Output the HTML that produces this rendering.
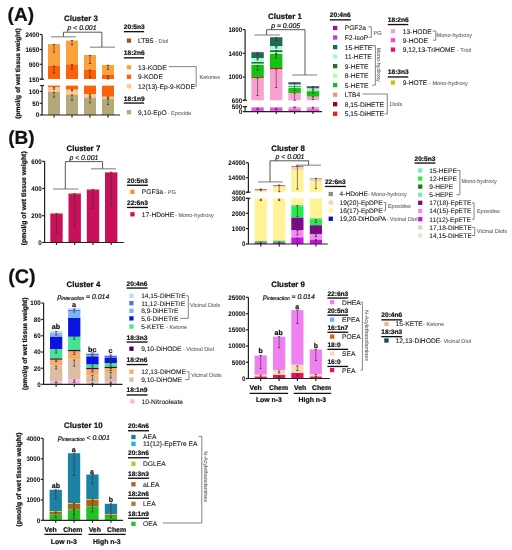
<!DOCTYPE html><html><head><meta charset="utf-8"><style>html,body{margin:0;padding:0;background:#fff}svg{display:block}</style></head><body><svg width="512" height="550" viewBox="0 0 512 550" text-rendering="geometricPrecision" font-family='"Liberation Sans", Arial, sans-serif'><style>text:not([fill]){fill:#222;stroke:#222;stroke-width:0.1px}text[font-weight="bold"]{fill:#111;stroke:#111;stroke-width:0.22px}text[fill="#707070"]{stroke:#707070;stroke-width:0.12px}text[textLength]{stroke-width:0.05px}text[font-style="italic"]{stroke-width:0.22px}</style><rect width="512" height="550" fill="#fff"/><text x="7.6" y="20.5" font-size="19" font-weight="bold">(A)</text><text x="8.2" y="143.5" font-size="19" font-weight="bold">(B)</text><text x="8.2" y="283.1" font-size="19.8" font-weight="bold">(C)</text><text x="81" y="20.5" font-size="7.9" font-weight="bold" text-anchor="middle">Cluster 3</text><text x="67.6" y="30" font-size="6.9" font-style="italic">p &lt; 0.001</text><line x1="51" y1="36.8" x2="76" y2="36.8" stroke="#999" stroke-width="1.3"/><line x1="90" y1="47.2" x2="115" y2="47.2" stroke="#999" stroke-width="1.3"/><polyline points="63.4,36.8 63.4,32.2 101.9,32.2 101.9,47.2" fill="none" stroke="#444" stroke-width="0.9"/><text x="19.5" y="73.5" font-size="6.6" font-weight="bold" text-anchor="middle" transform="rotate(-90 19.5 73.5)">(pmol/g of wet tissue weight)</text><rect x="48" y="44" width="12" height="21.7" fill="#FAA23C"/><rect x="48" y="65.7" width="12" height="13.3" fill="#FE6206"/><rect x="48" y="85.6" width="12" height="1.7" fill="#FE6206"/><rect x="48" y="87.3" width="12" height="4.7" fill="#FFC990"/><rect x="48" y="92" width="12" height="23" fill="#B4AA79"/><rect x="66" y="40.5" width="12" height="23.9" fill="#FAA23C"/><rect x="66" y="64.4" width="12" height="14.6" fill="#FE6206"/><rect x="66" y="85.6" width="12" height="4.1" fill="#FE6206"/><rect x="66" y="89.7" width="12" height="5.3" fill="#FFC990"/><rect x="66" y="95" width="12" height="20" fill="#B4AA79"/><rect x="84" y="55" width="12" height="14.8" fill="#FAA23C"/><rect x="84" y="69.8" width="12" height="9.2" fill="#FE6206"/><rect x="84" y="85.6" width="12" height="8.6" fill="#FE6206"/><rect x="84" y="94.2" width="12" height="3.4" fill="#FFC990"/><rect x="84" y="97.6" width="12" height="17.4" fill="#B4AA79"/><rect x="102" y="65" width="12" height="10" fill="#FAA23C"/><rect x="102" y="75" width="12" height="4" fill="#FE6206"/><rect x="102" y="85.6" width="12" height="11.2" fill="#FE6206"/><rect x="102" y="96.8" width="12" height="1.9" fill="#FFC990"/><rect x="102" y="98.7" width="12" height="16.3" fill="#B4AA79"/><line x1="54" y1="44.4" x2="54" y2="52.1" stroke="#3a3030" stroke-width="0.6"/><line x1="52.9" y1="44.4" x2="55.1" y2="44.4" stroke="#3a3030" stroke-width="0.8"/><line x1="52.9" y1="52.1" x2="55.1" y2="52.1" stroke="#3a3030" stroke-width="0.8"/><line x1="54" y1="66" x2="54" y2="72.9" stroke="#3a3030" stroke-width="0.6"/><line x1="52.9" y1="66" x2="55.1" y2="66" stroke="#3a3030" stroke-width="0.8"/><line x1="52.9" y1="72.9" x2="55.1" y2="72.9" stroke="#3a3030" stroke-width="0.8"/><line x1="54" y1="87.3" x2="54" y2="89.2" stroke="#3a3030" stroke-width="0.6"/><line x1="52.9" y1="87.3" x2="55.1" y2="87.3" stroke="#3a3030" stroke-width="0.8"/><line x1="52.9" y1="89.2" x2="55.1" y2="89.2" stroke="#3a3030" stroke-width="0.8"/><line x1="54" y1="92.2" x2="54" y2="97.1" stroke="#3a3030" stroke-width="0.6"/><line x1="52.9" y1="92.2" x2="55.1" y2="92.2" stroke="#3a3030" stroke-width="0.8"/><line x1="52.9" y1="97.1" x2="55.1" y2="97.1" stroke="#3a3030" stroke-width="0.8"/><line x1="72" y1="40.6" x2="72" y2="44.7" stroke="#3a3030" stroke-width="0.6"/><line x1="70.9" y1="40.6" x2="73.1" y2="40.6" stroke="#3a3030" stroke-width="0.8"/><line x1="70.9" y1="44.7" x2="73.1" y2="44.7" stroke="#3a3030" stroke-width="0.8"/><line x1="72" y1="64.7" x2="72" y2="69" stroke="#3a3030" stroke-width="0.6"/><line x1="70.9" y1="64.7" x2="73.1" y2="64.7" stroke="#3a3030" stroke-width="0.8"/><line x1="70.9" y1="69" x2="73.1" y2="69" stroke="#3a3030" stroke-width="0.8"/><line x1="72" y1="89.7" x2="72" y2="90.9" stroke="#3a3030" stroke-width="0.6"/><line x1="70.9" y1="89.7" x2="73.1" y2="89.7" stroke="#3a3030" stroke-width="0.8"/><line x1="70.9" y1="90.9" x2="73.1" y2="90.9" stroke="#3a3030" stroke-width="0.8"/><line x1="72" y1="95" x2="72" y2="100.4" stroke="#3a3030" stroke-width="0.6"/><line x1="70.9" y1="95" x2="73.1" y2="95" stroke="#3a3030" stroke-width="0.8"/><line x1="70.9" y1="100.4" x2="73.1" y2="100.4" stroke="#3a3030" stroke-width="0.8"/><line x1="90" y1="55.4" x2="90" y2="63.5" stroke="#3a3030" stroke-width="0.6"/><line x1="88.9" y1="55.4" x2="91.1" y2="55.4" stroke="#3a3030" stroke-width="0.8"/><line x1="88.9" y1="63.5" x2="91.1" y2="63.5" stroke="#3a3030" stroke-width="0.8"/><line x1="90" y1="70" x2="90" y2="77.5" stroke="#3a3030" stroke-width="0.6"/><line x1="88.9" y1="70" x2="91.1" y2="70" stroke="#3a3030" stroke-width="0.8"/><line x1="88.9" y1="77.5" x2="91.1" y2="77.5" stroke="#3a3030" stroke-width="0.8"/><line x1="90" y1="94.6" x2="90" y2="96.3" stroke="#3a3030" stroke-width="0.6"/><line x1="88.9" y1="94.6" x2="91.1" y2="94.6" stroke="#3a3030" stroke-width="0.8"/><line x1="88.9" y1="96.3" x2="91.1" y2="96.3" stroke="#3a3030" stroke-width="0.8"/><line x1="90" y1="97.6" x2="90" y2="102.8" stroke="#3a3030" stroke-width="0.6"/><line x1="88.9" y1="97.6" x2="91.1" y2="97.6" stroke="#3a3030" stroke-width="0.8"/><line x1="88.9" y1="102.8" x2="91.1" y2="102.8" stroke="#3a3030" stroke-width="0.8"/><line x1="108" y1="65.2" x2="108" y2="69.3" stroke="#3a3030" stroke-width="0.6"/><line x1="106.9" y1="65.2" x2="109.1" y2="65.2" stroke="#3a3030" stroke-width="0.8"/><line x1="106.9" y1="69.3" x2="109.1" y2="69.3" stroke="#3a3030" stroke-width="0.8"/><line x1="108" y1="75.8" x2="108" y2="79" stroke="#3a3030" stroke-width="0.6"/><line x1="106.9" y1="75.8" x2="109.1" y2="75.8" stroke="#3a3030" stroke-width="0.8"/><line x1="106.9" y1="79" x2="109.1" y2="79" stroke="#3a3030" stroke-width="0.8"/><line x1="108" y1="97" x2="108" y2="98.2" stroke="#3a3030" stroke-width="0.6"/><line x1="106.9" y1="97" x2="109.1" y2="97" stroke="#3a3030" stroke-width="0.8"/><line x1="106.9" y1="98.2" x2="109.1" y2="98.2" stroke="#3a3030" stroke-width="0.8"/><line x1="108" y1="98.7" x2="108" y2="104.5" stroke="#3a3030" stroke-width="0.6"/><line x1="106.9" y1="98.7" x2="109.1" y2="98.7" stroke="#3a3030" stroke-width="0.8"/><line x1="106.9" y1="104.5" x2="109.1" y2="104.5" stroke="#3a3030" stroke-width="0.8"/><line x1="42.1" y1="34.5" x2="42.1" y2="79.2" stroke="#222" stroke-width="1.2"/><line x1="39.7" y1="34.5" x2="42.1" y2="34.5" stroke="#222" stroke-width="1.2"/><text x="39.2" y="36.95" font-size="6.6" font-weight="bold" text-anchor="end" textLength="13.8" lengthAdjust="spacingAndGlyphs">2400</text><line x1="39.7" y1="49.5" x2="42.1" y2="49.5" stroke="#222" stroke-width="1.2"/><text x="39.2" y="51.95" font-size="6.6" font-weight="bold" text-anchor="end" textLength="13.8" lengthAdjust="spacingAndGlyphs">1650</text><line x1="39.7" y1="64.3" x2="42.1" y2="64.3" stroke="#222" stroke-width="1.2"/><text x="39.2" y="66.75" font-size="6.6" font-weight="bold" text-anchor="end" textLength="10.35" lengthAdjust="spacingAndGlyphs">900</text><line x1="39.7" y1="79.2" x2="42.1" y2="79.2" stroke="#222" stroke-width="1.2"/><text x="39.2" y="81.65" font-size="6.6" font-weight="bold" text-anchor="end" textLength="10.35" lengthAdjust="spacingAndGlyphs">150</text><line x1="40.1" y1="79.2" x2="44.1" y2="79.2" stroke="#222" stroke-width="1.2"/><line x1="42.1" y1="85.5" x2="42.1" y2="115" stroke="#222" stroke-width="1.2"/><line x1="39.7" y1="91.5" x2="42.1" y2="91.5" stroke="#222" stroke-width="1.2"/><text x="39.2" y="93.95" font-size="6.6" font-weight="bold" text-anchor="end" textLength="10.35" lengthAdjust="spacingAndGlyphs">100</text><line x1="39.7" y1="103.3" x2="42.1" y2="103.3" stroke="#222" stroke-width="1.2"/><text x="39.2" y="105.75" font-size="6.6" font-weight="bold" text-anchor="end" textLength="6.9" lengthAdjust="spacingAndGlyphs">50</text><line x1="39.7" y1="115" x2="42.1" y2="115" stroke="#222" stroke-width="1.2"/><text x="39.2" y="117.45" font-size="6.6" font-weight="bold" text-anchor="end" textLength="3.45" lengthAdjust="spacingAndGlyphs">0</text><line x1="40.1" y1="85.5" x2="44.1" y2="85.5" stroke="#222" stroke-width="1.2"/><line x1="41.65" y1="115" x2="120" y2="115" stroke="#222" stroke-width="1.2"/><line x1="54" y1="115" x2="54" y2="117.4" stroke="#222" stroke-width="1.2"/><line x1="72" y1="115" x2="72" y2="117.4" stroke="#222" stroke-width="1.2"/><line x1="90" y1="115" x2="90" y2="117.4" stroke="#222" stroke-width="1.2"/><line x1="108" y1="115" x2="108" y2="117.4" stroke="#222" stroke-width="1.2"/><text x="123.8" y="29.1" font-size="6.6" font-weight="bold">20:5n3</text><line x1="123.8" y1="31.65" x2="144.1" y2="31.65" stroke="#111" stroke-width="1.35"/><rect x="126.8" y="38.45" width="4.3" height="4.3" fill="#A0561E"/><text x="138" y="43.01" font-size="6.7">LTB5</text><text x="155.2" y="43.01" font-size="5.6" fill="#707070">- Diol</text><text x="123.8" y="55.3" font-size="6.6" font-weight="bold">18:2n6</text><line x1="123.8" y1="57.85" x2="144.1" y2="57.85" stroke="#111" stroke-width="1.35"/><rect x="126.8" y="65.15" width="4.3" height="4.3" fill="#FAA23C"/><text x="138" y="69.71" font-size="6.7">13-KODE</text><rect x="126.8" y="74.65" width="4.3" height="4.3" fill="#FE6206"/><text x="138" y="79.21" font-size="6.7">9-KODE</text><rect x="126.8" y="84.15" width="4.3" height="4.3" fill="#FFC990"/><text x="138" y="88.71" font-size="6.7">12(13)-Ep-9-KODE</text><polyline points="168.8,66.6 196.2,66.6 196.2,86.3 194,86.3" fill="none" stroke="#666" stroke-width="0.8"/><text x="199.5" y="78.6" font-size="5.6" fill="#707070">Ketones</text><text x="123.8" y="100.5" font-size="6.6" font-weight="bold">18:1n9</text><line x1="123.8" y1="103.05" x2="144.1" y2="103.05" stroke="#111" stroke-width="1.35"/><rect x="126.8" y="110.05" width="4.3" height="4.3" fill="#B4AA79"/><text x="138" y="114.61" font-size="6.7">9,10-EpO</text><text x="167.6" y="114.61" font-size="5.6" fill="#707070">- Epoxide</text><text x="285" y="19.3" font-size="7.9" font-weight="bold" text-anchor="middle">Cluster 1</text><text x="271.2" y="27.8" font-size="6.9" font-style="italic">p = 0.005</text><line x1="254.4" y1="35" x2="279.8" y2="35" stroke="#999" stroke-width="1.3"/><line x1="292.3" y1="75" x2="317.2" y2="75" stroke="#999" stroke-width="1.3"/><polyline points="266.6,35 266.6,29.7 305,29.7 305,75" fill="none" stroke="#444" stroke-width="0.9"/><rect x="251.4" y="51.9" width="12.4" height="0.7" fill="#8B1A8B"/><rect x="251.4" y="52.6" width="12.4" height="5.5" fill="#1E6B50"/><rect x="251.4" y="58.1" width="12.4" height="3.4" fill="#98FFE6"/><rect x="251.4" y="61.5" width="12.4" height="0.4" fill="#ffffff"/><rect x="251.4" y="61.9" width="12.4" height="1.85" fill="#1A7A1A"/><rect x="251.4" y="63.75" width="12.4" height="1.25" fill="#B5F7C5"/><rect x="251.4" y="65" width="12.4" height="12.1" fill="#14C214"/><rect x="251.4" y="77.1" width="12.4" height="0.9" fill="#E01010"/><rect x="251.4" y="78" width="12.4" height="22.3" fill="#F9A0D0"/><rect x="251.4" y="106.9" width="12.4" height="1" fill="#F9A0D0"/><rect x="251.4" y="107.9" width="12.4" height="3.6" fill="#F050E0"/><rect x="270" y="37.1" width="12.4" height="0.6" fill="#8B1A8B"/><rect x="270" y="37.7" width="12.4" height="8.55" fill="#1E6B50"/><rect x="270" y="46.25" width="12.4" height="3.35" fill="#98FFE6"/><rect x="270" y="49.6" width="12.4" height="0.65" fill="#ffffff"/><rect x="270" y="50.25" width="12.4" height="1.85" fill="#1A7A1A"/><rect x="270" y="52.1" width="12.4" height="1.9" fill="#B5F7C5"/><rect x="270" y="54" width="12.4" height="14" fill="#14C214"/><rect x="270" y="68" width="12.4" height="1" fill="#E01010"/><rect x="270" y="69" width="12.4" height="31.3" fill="#F9A0D0"/><rect x="270" y="106.9" width="12.4" height="1" fill="#F9A0D0"/><rect x="270" y="107.9" width="12.4" height="3.6" fill="#F050E0"/><rect x="288.4" y="82.1" width="12.4" height="0.7" fill="#8B1A8B"/><rect x="288.4" y="82.8" width="12.4" height="1.8" fill="#1E6B50"/><rect x="288.4" y="84.6" width="12.4" height="1.2" fill="#98FFE6"/><rect x="288.4" y="85.8" width="12.4" height="0.4" fill="#ffffff"/><rect x="288.4" y="86.2" width="12.4" height="0.7" fill="#1A7A1A"/><rect x="288.4" y="86.9" width="12.4" height="1" fill="#B5F7C5"/><rect x="288.4" y="87.9" width="12.4" height="5.1" fill="#14C214"/><rect x="288.4" y="93" width="12.4" height="7.3" fill="#F9A0D0"/><rect x="288.4" y="106.9" width="12.4" height="2.3" fill="#F9A0D0"/><rect x="288.4" y="109.2" width="12.4" height="2.3" fill="#F050E0"/><rect x="306.8" y="86" width="12.4" height="0.6" fill="#8B1A8B"/><rect x="306.8" y="86.6" width="12.4" height="1.9" fill="#1E6B50"/><rect x="306.8" y="88.5" width="12.4" height="0.9" fill="#98FFE6"/><rect x="306.8" y="89.4" width="12.4" height="0.4" fill="#ffffff"/><rect x="306.8" y="89.8" width="12.4" height="0.5" fill="#1A7A1A"/><rect x="306.8" y="90.3" width="12.4" height="0.9" fill="#B5F7C5"/><rect x="306.8" y="91.2" width="12.4" height="5.5" fill="#14C214"/><rect x="306.8" y="96.7" width="12.4" height="3.6" fill="#F9A0D0"/><rect x="306.8" y="106.9" width="12.4" height="2.3" fill="#F9A0D0"/><rect x="306.8" y="109.2" width="12.4" height="2.3" fill="#F050E0"/><line x1="257.6" y1="52.6" x2="257.6" y2="55" stroke="#3a3030" stroke-width="0.6"/><line x1="256.5" y1="52.6" x2="258.7" y2="52.6" stroke="#3a3030" stroke-width="0.8"/><line x1="256.5" y1="55" x2="258.7" y2="55" stroke="#3a3030" stroke-width="0.8"/><line x1="257.6" y1="58.5" x2="257.6" y2="60" stroke="#3a3030" stroke-width="0.6"/><line x1="256.5" y1="58.5" x2="258.7" y2="58.5" stroke="#3a3030" stroke-width="0.8"/><line x1="256.5" y1="60" x2="258.7" y2="60" stroke="#3a3030" stroke-width="0.8"/><line x1="257.6" y1="65.5" x2="257.6" y2="70" stroke="#3a3030" stroke-width="0.6"/><line x1="256.5" y1="65.5" x2="258.7" y2="65.5" stroke="#3a3030" stroke-width="0.8"/><line x1="256.5" y1="70" x2="258.7" y2="70" stroke="#3a3030" stroke-width="0.8"/><line x1="257.6" y1="78" x2="257.6" y2="95.5" stroke="#3a3030" stroke-width="0.6"/><line x1="256.5" y1="78" x2="258.7" y2="78" stroke="#3a3030" stroke-width="0.8"/><line x1="256.5" y1="95.5" x2="258.7" y2="95.5" stroke="#3a3030" stroke-width="0.8"/><line x1="257.6" y1="108.2" x2="257.6" y2="109.5" stroke="#3a3030" stroke-width="0.6"/><line x1="256.5" y1="108.2" x2="258.7" y2="108.2" stroke="#3a3030" stroke-width="0.8"/><line x1="256.5" y1="109.5" x2="258.7" y2="109.5" stroke="#3a3030" stroke-width="0.8"/><line x1="276.2" y1="37.7" x2="276.2" y2="40.5" stroke="#3a3030" stroke-width="0.6"/><line x1="275.1" y1="37.7" x2="277.3" y2="37.7" stroke="#3a3030" stroke-width="0.8"/><line x1="275.1" y1="40.5" x2="277.3" y2="40.5" stroke="#3a3030" stroke-width="0.8"/><line x1="276.2" y1="46.5" x2="276.2" y2="48" stroke="#3a3030" stroke-width="0.6"/><line x1="275.1" y1="46.5" x2="277.3" y2="46.5" stroke="#3a3030" stroke-width="0.8"/><line x1="275.1" y1="48" x2="277.3" y2="48" stroke="#3a3030" stroke-width="0.8"/><line x1="276.2" y1="50.5" x2="276.2" y2="53.5" stroke="#3a3030" stroke-width="0.6"/><line x1="275.1" y1="50.5" x2="277.3" y2="50.5" stroke="#3a3030" stroke-width="0.8"/><line x1="275.1" y1="53.5" x2="277.3" y2="53.5" stroke="#3a3030" stroke-width="0.8"/><line x1="276.2" y1="54.5" x2="276.2" y2="58" stroke="#3a3030" stroke-width="0.6"/><line x1="275.1" y1="54.5" x2="277.3" y2="54.5" stroke="#3a3030" stroke-width="0.8"/><line x1="275.1" y1="58" x2="277.3" y2="58" stroke="#3a3030" stroke-width="0.8"/><line x1="276.2" y1="69" x2="276.2" y2="87.6" stroke="#3a3030" stroke-width="0.6"/><line x1="275.1" y1="69" x2="277.3" y2="69" stroke="#3a3030" stroke-width="0.8"/><line x1="275.1" y1="87.6" x2="277.3" y2="87.6" stroke="#3a3030" stroke-width="0.8"/><line x1="276.2" y1="108.2" x2="276.2" y2="109.5" stroke="#3a3030" stroke-width="0.6"/><line x1="275.1" y1="108.2" x2="277.3" y2="108.2" stroke="#3a3030" stroke-width="0.8"/><line x1="275.1" y1="109.5" x2="277.3" y2="109.5" stroke="#3a3030" stroke-width="0.8"/><line x1="294.6" y1="83" x2="294.6" y2="90.5" stroke="#3a3030" stroke-width="0.6"/><line x1="293.5" y1="83" x2="295.7" y2="83" stroke="#3a3030" stroke-width="0.8"/><line x1="293.5" y1="90.5" x2="295.7" y2="90.5" stroke="#3a3030" stroke-width="0.8"/><line x1="294.6" y1="93" x2="294.6" y2="100.3" stroke="#3a3030" stroke-width="0.6"/><line x1="293.5" y1="93" x2="295.7" y2="93" stroke="#3a3030" stroke-width="0.8"/><line x1="293.5" y1="100.3" x2="295.7" y2="100.3" stroke="#3a3030" stroke-width="0.8"/><line x1="294.6" y1="106.9" x2="294.6" y2="108" stroke="#3a3030" stroke-width="0.6"/><line x1="293.5" y1="106.9" x2="295.7" y2="106.9" stroke="#3a3030" stroke-width="0.8"/><line x1="293.5" y1="108" x2="295.7" y2="108" stroke="#3a3030" stroke-width="0.8"/><line x1="313" y1="86.6" x2="313" y2="89" stroke="#3a3030" stroke-width="0.6"/><line x1="311.9" y1="86.6" x2="314.1" y2="86.6" stroke="#3a3030" stroke-width="0.8"/><line x1="311.9" y1="89" x2="314.1" y2="89" stroke="#3a3030" stroke-width="0.8"/><line x1="313" y1="90" x2="313" y2="93" stroke="#3a3030" stroke-width="0.6"/><line x1="311.9" y1="90" x2="314.1" y2="90" stroke="#3a3030" stroke-width="0.8"/><line x1="311.9" y1="93" x2="314.1" y2="93" stroke="#3a3030" stroke-width="0.8"/><line x1="313" y1="96.7" x2="313" y2="99.5" stroke="#3a3030" stroke-width="0.6"/><line x1="311.9" y1="96.7" x2="314.1" y2="96.7" stroke="#3a3030" stroke-width="0.8"/><line x1="311.9" y1="99.5" x2="314.1" y2="99.5" stroke="#3a3030" stroke-width="0.8"/><line x1="313" y1="107.2" x2="313" y2="108.6" stroke="#3a3030" stroke-width="0.6"/><line x1="311.9" y1="107.2" x2="314.1" y2="107.2" stroke="#3a3030" stroke-width="0.8"/><line x1="311.9" y1="108.6" x2="314.1" y2="108.6" stroke="#3a3030" stroke-width="0.8"/><line x1="245.1" y1="29.6" x2="245.1" y2="100.3" stroke="#222" stroke-width="1.2"/><line x1="242.7" y1="29.6" x2="245.1" y2="29.6" stroke="#222" stroke-width="1.2"/><text x="242.2" y="32.05" font-size="6.6" font-weight="bold" text-anchor="end" textLength="13.8" lengthAdjust="spacingAndGlyphs">1800</text><line x1="242.7" y1="53.3" x2="245.1" y2="53.3" stroke="#222" stroke-width="1.2"/><text x="242.2" y="55.75" font-size="6.6" font-weight="bold" text-anchor="end" textLength="13.8" lengthAdjust="spacingAndGlyphs">1400</text><line x1="242.7" y1="77" x2="245.1" y2="77" stroke="#222" stroke-width="1.2"/><text x="242.2" y="79.45" font-size="6.6" font-weight="bold" text-anchor="end" textLength="13.8" lengthAdjust="spacingAndGlyphs">1000</text><line x1="242.7" y1="100.3" x2="245.1" y2="100.3" stroke="#222" stroke-width="1.2"/><text x="242.2" y="102.75" font-size="6.6" font-weight="bold" text-anchor="end" textLength="10.35" lengthAdjust="spacingAndGlyphs">600</text><line x1="243.1" y1="100.3" x2="247.1" y2="100.3" stroke="#222" stroke-width="1.2"/><line x1="245.1" y1="106.6" x2="245.1" y2="111.6" stroke="#222" stroke-width="1.2"/><line x1="242.7" y1="106.6" x2="245.1" y2="106.6" stroke="#222" stroke-width="1.2"/><text x="242.2" y="109.05" font-size="6.6" font-weight="bold" text-anchor="end" textLength="10.35" lengthAdjust="spacingAndGlyphs">500</text><line x1="242.7" y1="111.6" x2="245.1" y2="111.6" stroke="#222" stroke-width="1.2"/><text x="242.2" y="114.05" font-size="6.6" font-weight="bold" text-anchor="end" textLength="3.45" lengthAdjust="spacingAndGlyphs">0</text><line x1="243.1" y1="106.6" x2="247.1" y2="106.6" stroke="#222" stroke-width="1.2"/><line x1="244.65" y1="111.6" x2="322" y2="111.6" stroke="#222" stroke-width="1.2"/><line x1="257.6" y1="111.6" x2="257.6" y2="114" stroke="#222" stroke-width="1.2"/><line x1="276.2" y1="111.6" x2="276.2" y2="114" stroke="#222" stroke-width="1.2"/><line x1="294.6" y1="111.6" x2="294.6" y2="114" stroke="#222" stroke-width="1.2"/><line x1="313" y1="111.6" x2="313" y2="114" stroke="#222" stroke-width="1.2"/><text x="329.8" y="17.3" font-size="6.6" font-weight="bold">20:4n6</text><line x1="329.8" y1="19.85" x2="350.8" y2="19.85" stroke="#111" stroke-width="1.35"/><rect x="333" y="25.85" width="4.3" height="4.3" fill="#8B1A8B"/><text x="344.7" y="30.41" font-size="6.7">PGF2a</text><rect x="333" y="35.35" width="4.3" height="4.3" fill="#CC33FF"/><text x="344.7" y="39.91" font-size="6.7">F2-IsoP</text><rect x="333" y="44.95" width="4.3" height="4.3" fill="#1E6B50"/><text x="344.7" y="49.51" font-size="6.7">15-HETE</text><rect x="333" y="54.45" width="4.3" height="4.3" fill="#98FFE6"/><text x="344.7" y="59.01" font-size="6.7">11-HETE</text><rect x="333" y="63.95" width="4.3" height="4.3" fill="#1A7A1A"/><text x="344.7" y="68.51" font-size="6.7">9-HETE</text><rect x="333" y="73.45" width="4.3" height="4.3" fill="#B5F7C5"/><text x="344.7" y="78.01" font-size="6.7">8-HETE</text><rect x="333" y="82.95" width="4.3" height="4.3" fill="#14C214"/><text x="344.7" y="87.51" font-size="6.7">5-HETE</text><rect x="333" y="92.55" width="4.3" height="4.3" fill="#F59090"/><text x="344.7" y="97.11" font-size="6.7">LTB4</text><rect x="333" y="102.05" width="4.3" height="4.3" fill="#A00000"/><text x="344.7" y="106.61" font-size="6.7">8,15-DiHETE</text><rect x="333" y="111.65" width="4.3" height="4.3" fill="#FF1A1A"/><text x="344.7" y="116.21" font-size="6.7">5,15-DiHETE</text><polyline points="368.3,26.8 371.3,26.8 371.3,37.4 368.8,37.4" fill="none" stroke="#666" stroke-width="0.8"/><text x="373.5" y="35" font-size="5.6" fill="#707070">PG</text><polyline points="372,45.6 375.4,45.6 375.4,85.1 372,85.1" fill="none" stroke="#666" stroke-width="0.8"/><text x="377.4" y="47.6" font-size="5.4" fill="#707070" transform="rotate(90 377.4 47.6)">Mono-hydroxy</text><polyline points="362.5,94 387.3,94 387.3,114 384.5,114" fill="none" stroke="#666" stroke-width="0.8"/><text x="389.8" y="106.1" font-size="5.6" fill="#707070">Diols</text><text x="387.8" y="22" font-size="6.6" font-weight="bold">18:2n6</text><line x1="387.8" y1="24.55" x2="408.3" y2="24.55" stroke="#111" stroke-width="1.35"/><rect x="390.8" y="29.05" width="4.3" height="4.3" fill="#F9A0D0"/><text x="402.8" y="33.61" font-size="6.7">13-HODE</text><rect x="390.8" y="38.05" width="4.3" height="4.3" fill="#FF48D8"/><text x="402.8" y="42.61" font-size="6.7">9-HODE</text><rect x="390.8" y="47.45" width="4.3" height="4.3" fill="#E8106E"/><text x="402.8" y="52.01" font-size="6.7">9,12,13-TriHOME</text><text x="457" y="52.01" font-size="5.6" fill="#707070">- Triol</text><polyline points="432.5,31 435.8,31 435.8,40.2 433,40.2" fill="none" stroke="#666" stroke-width="0.8"/><text x="436.6" y="37" font-size="5.6" fill="#707070">Mono-hydroxy</text><text x="387.8" y="74.4" font-size="6.6" font-weight="bold">18:3n3</text><line x1="387.8" y1="76.95" x2="408.3" y2="76.95" stroke="#111" stroke-width="1.35"/><rect x="390.8" y="80.45" width="4.3" height="4.3" fill="#C8C020"/><text x="402.8" y="85.01" font-size="6.7">9-HOTE</text><text x="429" y="85.01" font-size="5.6" fill="#707070">- Mono-hydroxy</text><text x="83.4" y="151.3" font-size="7.9" font-weight="bold" text-anchor="middle">Cluster 7</text><text x="69.4" y="159.6" font-size="6.9" font-style="italic">p &lt; 0.001</text><line x1="52.9" y1="189" x2="78.4" y2="189" stroke="#999" stroke-width="1.3"/><line x1="91" y1="168.8" x2="116" y2="168.8" stroke="#999" stroke-width="1.3"/><polyline points="65.3,189 65.3,161.6 102.6,161.6 102.6,168.8" fill="none" stroke="#444" stroke-width="0.9"/><text x="26.5" y="198.3" font-size="6.85" font-weight="bold" text-anchor="middle" transform="rotate(-90 26.5 198.3)">(pmol/g of wet tissue weight)</text><rect x="50.3" y="213.4" width="12.4" height="29.1" fill="#C9115B"/><rect x="50.3" y="213.4" width="12.4" height="0.7" fill="#F89A30"/><line x1="56.5" y1="213.4" x2="56.5" y2="232.5" stroke="#3a3030" stroke-width="0.6"/><line x1="55.4" y1="213.4" x2="57.6" y2="213.4" stroke="#3a3030" stroke-width="0.8"/><line x1="55.4" y1="232.5" x2="57.6" y2="232.5" stroke="#3a3030" stroke-width="0.8"/><rect x="68.5" y="193.5" width="12.4" height="49" fill="#C9115B"/><rect x="68.5" y="193.5" width="12.4" height="0.7" fill="#F89A30"/><line x1="74.7" y1="193.5" x2="74.7" y2="226" stroke="#3a3030" stroke-width="0.6"/><line x1="73.6" y1="193.5" x2="75.8" y2="193.5" stroke="#3a3030" stroke-width="0.8"/><line x1="73.6" y1="226" x2="75.8" y2="226" stroke="#3a3030" stroke-width="0.8"/><rect x="86.8" y="189.4" width="12.4" height="53.1" fill="#C9115B"/><rect x="86.8" y="189.4" width="12.4" height="0.7" fill="#F89A30"/><line x1="93" y1="189.4" x2="93" y2="208.5" stroke="#3a3030" stroke-width="0.6"/><line x1="91.9" y1="189.4" x2="94.1" y2="189.4" stroke="#3a3030" stroke-width="0.8"/><line x1="91.9" y1="208.5" x2="94.1" y2="208.5" stroke="#3a3030" stroke-width="0.8"/><rect x="105" y="172.1" width="12.4" height="70.4" fill="#C9115B"/><rect x="105" y="172.1" width="12.4" height="0.7" fill="#F89A30"/><line x1="111.2" y1="172.1" x2="111.2" y2="205.3" stroke="#3a3030" stroke-width="0.6"/><line x1="110.1" y1="172.1" x2="112.3" y2="172.1" stroke="#3a3030" stroke-width="0.8"/><line x1="110.1" y1="205.3" x2="112.3" y2="205.3" stroke="#3a3030" stroke-width="0.8"/><line x1="44.6" y1="161.3" x2="44.6" y2="242.5" stroke="#222" stroke-width="1.2"/><line x1="42.2" y1="161.3" x2="44.6" y2="161.3" stroke="#222" stroke-width="1.2"/><text x="41.7" y="163.75" font-size="6.6" font-weight="bold" text-anchor="end" textLength="10.35" lengthAdjust="spacingAndGlyphs">600</text><line x1="42.2" y1="188.5" x2="44.6" y2="188.5" stroke="#222" stroke-width="1.2"/><text x="41.7" y="190.95" font-size="6.6" font-weight="bold" text-anchor="end" textLength="10.35" lengthAdjust="spacingAndGlyphs">400</text><line x1="42.2" y1="215.7" x2="44.6" y2="215.7" stroke="#222" stroke-width="1.2"/><text x="41.7" y="218.15" font-size="6.6" font-weight="bold" text-anchor="end" textLength="10.35" lengthAdjust="spacingAndGlyphs">200</text><line x1="42.2" y1="242.5" x2="44.6" y2="242.5" stroke="#222" stroke-width="1.2"/><text x="41.7" y="244.95" font-size="6.6" font-weight="bold" text-anchor="end" textLength="3.45" lengthAdjust="spacingAndGlyphs">0</text><line x1="44.15" y1="242.5" x2="123.8" y2="242.5" stroke="#222" stroke-width="1.2"/><line x1="56.5" y1="242.5" x2="56.5" y2="244.9" stroke="#222" stroke-width="1.2"/><line x1="74.7" y1="242.5" x2="74.7" y2="244.9" stroke="#222" stroke-width="1.2"/><line x1="93" y1="242.5" x2="93" y2="244.9" stroke="#222" stroke-width="1.2"/><line x1="111.2" y1="242.5" x2="111.2" y2="244.9" stroke="#222" stroke-width="1.2"/><text x="127" y="182.7" font-size="6.6" font-weight="bold">20:5n3</text><line x1="127" y1="185.25" x2="148" y2="185.25" stroke="#111" stroke-width="1.35"/><rect x="130.3" y="189.65" width="4.3" height="4.3" fill="#F8922A"/><text x="141.8" y="194.21" font-size="6.7">PGF3a</text><text x="164.3" y="194.21" font-size="5.6" fill="#707070">- PG</text><text x="127" y="204.9" font-size="6.6" font-weight="bold">22:6n3</text><line x1="127" y1="207.45" x2="148" y2="207.45" stroke="#111" stroke-width="1.35"/><rect x="130.3" y="212.15" width="4.3" height="4.3" fill="#C9115B"/><text x="141.8" y="216.71" font-size="6.7">17-HDoHE</text><text x="175" y="216.71" font-size="5.6" fill="#707070">- Mono-hydroxy</text><text x="288.1" y="150.8" font-size="7.9" font-weight="bold" text-anchor="middle">Cluster 8</text><text x="275.5" y="158.6" font-size="6.9" font-style="italic">p &lt; 0.001</text><line x1="258.1" y1="181.9" x2="282.8" y2="181.9" stroke="#999" stroke-width="1.3"/><line x1="295.8" y1="165.2" x2="320.8" y2="165.2" stroke="#999" stroke-width="1.3"/><polyline points="270,181.9 270,160.8 308.6,160.8 308.6,165.2" fill="none" stroke="#444" stroke-width="0.9"/><rect x="254.7" y="189" width="12.2" height="1" fill="#8C8C8C"/><rect x="254.7" y="190" width="12.2" height="1" fill="#FCD2A6"/><rect x="254.7" y="191" width="12.2" height="1.2" fill="#FFF395"/><rect x="273.1" y="185" width="12.2" height="1" fill="#8C8C8C"/><rect x="273.1" y="186" width="12.2" height="1.5" fill="#FCD2A6"/><rect x="273.1" y="187.5" width="12.2" height="4.7" fill="#FFF395"/><rect x="291.3" y="166" width="12.2" height="1" fill="#8C8C8C"/><rect x="291.3" y="167" width="12.2" height="3.6" fill="#FCD2A6"/><rect x="291.3" y="170.6" width="12.2" height="21.6" fill="#FFF395"/><rect x="309.8" y="178.4" width="12.2" height="1" fill="#8C8C8C"/><rect x="309.8" y="179.4" width="12.2" height="2.2" fill="#FCD2A6"/><rect x="309.8" y="181.6" width="12.2" height="10.6" fill="#FFF395"/><rect x="254.7" y="198.4" width="12.2" height="42.6" fill="#FFF395"/><rect x="254.7" y="241" width="12.2" height="1.5" fill="#22EE4A"/><rect x="254.7" y="242.5" width="12.2" height="1.5" fill="#CC10E6"/><rect x="273.1" y="198.4" width="12.2" height="42.2" fill="#FFF395"/><rect x="273.1" y="240.6" width="12.2" height="1.7" fill="#22EE4A"/><rect x="273.1" y="242.3" width="12.2" height="1.7" fill="#CC10E6"/><rect x="291.3" y="198.4" width="12.2" height="7.1" fill="#FFF395"/><rect x="291.3" y="205.5" width="12.2" height="0.7" fill="#3aa0a0"/><rect x="291.3" y="206.2" width="12.2" height="11.2" fill="#22EE4A"/><rect x="291.3" y="217.4" width="12.2" height="0.6" fill="#5050b0"/><rect x="291.3" y="218" width="12.2" height="12" fill="#7E0A8A"/><rect x="291.3" y="230" width="12.2" height="7.5" fill="#F28AF2"/><rect x="291.3" y="237.5" width="12.2" height="6.5" fill="#CC10E6"/><rect x="309.8" y="198.4" width="12.2" height="20.1" fill="#FFF395"/><rect x="309.8" y="218.5" width="12.2" height="0.7" fill="#3aa0a0"/><rect x="309.8" y="219.2" width="12.2" height="6" fill="#22EE4A"/><rect x="309.8" y="225.2" width="12.2" height="8.8" fill="#7E0A8A"/><rect x="309.8" y="234" width="12.2" height="5.7" fill="#F28AF2"/><rect x="309.8" y="239.7" width="12.2" height="4.3" fill="#CC10E6"/><line x1="260.8" y1="189" x2="260.8" y2="190.6" stroke="#3a3030" stroke-width="0.6"/><line x1="259.7" y1="189" x2="261.9" y2="189" stroke="#3a3030" stroke-width="0.8"/><line x1="259.7" y1="190.6" x2="261.9" y2="190.6" stroke="#3a3030" stroke-width="0.8"/><line x1="260.8" y1="199.2" x2="260.8" y2="200.6" stroke="#3a3030" stroke-width="0.6"/><line x1="259.7" y1="199.2" x2="261.9" y2="199.2" stroke="#3a3030" stroke-width="0.8"/><line x1="259.7" y1="200.6" x2="261.9" y2="200.6" stroke="#3a3030" stroke-width="0.8"/><line x1="260.8" y1="242.4" x2="260.8" y2="243.4" stroke="#3a3030" stroke-width="0.6"/><line x1="259.7" y1="242.4" x2="261.9" y2="242.4" stroke="#3a3030" stroke-width="0.8"/><line x1="259.7" y1="243.4" x2="261.9" y2="243.4" stroke="#3a3030" stroke-width="0.8"/><line x1="279.2" y1="185" x2="279.2" y2="191.7" stroke="#3a3030" stroke-width="0.6"/><line x1="278.1" y1="185" x2="280.3" y2="185" stroke="#3a3030" stroke-width="0.8"/><line x1="278.1" y1="191.7" x2="280.3" y2="191.7" stroke="#3a3030" stroke-width="0.8"/><line x1="279.2" y1="199.2" x2="279.2" y2="200.6" stroke="#3a3030" stroke-width="0.6"/><line x1="278.1" y1="199.2" x2="280.3" y2="199.2" stroke="#3a3030" stroke-width="0.8"/><line x1="278.1" y1="200.6" x2="280.3" y2="200.6" stroke="#3a3030" stroke-width="0.8"/><line x1="279.2" y1="242" x2="279.2" y2="243.4" stroke="#3a3030" stroke-width="0.6"/><line x1="278.1" y1="242" x2="280.3" y2="242" stroke="#3a3030" stroke-width="0.8"/><line x1="278.1" y1="243.4" x2="280.3" y2="243.4" stroke="#3a3030" stroke-width="0.8"/><line x1="297.4" y1="166" x2="297.4" y2="189" stroke="#3a3030" stroke-width="0.6"/><line x1="296.3" y1="166" x2="298.5" y2="166" stroke="#3a3030" stroke-width="0.8"/><line x1="296.3" y1="189" x2="298.5" y2="189" stroke="#3a3030" stroke-width="0.8"/><line x1="297.4" y1="205.8" x2="297.4" y2="216.4" stroke="#3a3030" stroke-width="0.6"/><line x1="296.3" y1="205.8" x2="298.5" y2="205.8" stroke="#3a3030" stroke-width="0.8"/><line x1="296.3" y1="216.4" x2="298.5" y2="216.4" stroke="#3a3030" stroke-width="0.8"/><line x1="297.4" y1="219.9" x2="297.4" y2="227.8" stroke="#3a3030" stroke-width="0.6"/><line x1="296.3" y1="219.9" x2="298.5" y2="219.9" stroke="#3a3030" stroke-width="0.8"/><line x1="296.3" y1="227.8" x2="298.5" y2="227.8" stroke="#3a3030" stroke-width="0.8"/><line x1="297.4" y1="230.4" x2="297.4" y2="234.8" stroke="#3a3030" stroke-width="0.6"/><line x1="296.3" y1="230.4" x2="298.5" y2="230.4" stroke="#3a3030" stroke-width="0.8"/><line x1="296.3" y1="234.8" x2="298.5" y2="234.8" stroke="#3a3030" stroke-width="0.8"/><line x1="297.4" y1="238.3" x2="297.4" y2="241.8" stroke="#3a3030" stroke-width="0.6"/><line x1="296.3" y1="238.3" x2="298.5" y2="238.3" stroke="#3a3030" stroke-width="0.8"/><line x1="296.3" y1="241.8" x2="298.5" y2="241.8" stroke="#3a3030" stroke-width="0.8"/><line x1="315.9" y1="178.4" x2="315.9" y2="188.6" stroke="#3a3030" stroke-width="0.6"/><line x1="314.8" y1="178.4" x2="317" y2="178.4" stroke="#3a3030" stroke-width="0.8"/><line x1="314.8" y1="188.6" x2="317" y2="188.6" stroke="#3a3030" stroke-width="0.8"/><line x1="315.9" y1="219.9" x2="315.9" y2="222.5" stroke="#3a3030" stroke-width="0.6"/><line x1="314.8" y1="219.9" x2="317" y2="219.9" stroke="#3a3030" stroke-width="0.8"/><line x1="314.8" y1="222.5" x2="317" y2="222.5" stroke="#3a3030" stroke-width="0.8"/><line x1="315.9" y1="226.9" x2="315.9" y2="229.5" stroke="#3a3030" stroke-width="0.6"/><line x1="314.8" y1="226.9" x2="317" y2="226.9" stroke="#3a3030" stroke-width="0.8"/><line x1="314.8" y1="229.5" x2="317" y2="229.5" stroke="#3a3030" stroke-width="0.8"/><line x1="315.9" y1="234.8" x2="315.9" y2="236.6" stroke="#3a3030" stroke-width="0.6"/><line x1="314.8" y1="234.8" x2="317" y2="234.8" stroke="#3a3030" stroke-width="0.8"/><line x1="314.8" y1="236.6" x2="317" y2="236.6" stroke="#3a3030" stroke-width="0.8"/><line x1="315.9" y1="239.7" x2="315.9" y2="241.4" stroke="#3a3030" stroke-width="0.6"/><line x1="314.8" y1="239.7" x2="317" y2="239.7" stroke="#3a3030" stroke-width="0.8"/><line x1="314.8" y1="241.4" x2="317" y2="241.4" stroke="#3a3030" stroke-width="0.8"/><line x1="248.4" y1="162.8" x2="248.4" y2="192.2" stroke="#222" stroke-width="1.2"/><line x1="246" y1="162.8" x2="248.4" y2="162.8" stroke="#222" stroke-width="1.2"/><text x="245.5" y="165.25" font-size="6.6" font-weight="bold" text-anchor="end" textLength="17.25" lengthAdjust="spacingAndGlyphs">24000</text><line x1="246" y1="177.7" x2="248.4" y2="177.7" stroke="#222" stroke-width="1.2"/><text x="245.5" y="180.15" font-size="6.6" font-weight="bold" text-anchor="end" textLength="17.25" lengthAdjust="spacingAndGlyphs">14000</text><line x1="246" y1="192.2" x2="248.4" y2="192.2" stroke="#222" stroke-width="1.2"/><text x="245.5" y="194.65" font-size="6.6" font-weight="bold" text-anchor="end" textLength="13.8" lengthAdjust="spacingAndGlyphs">4000</text><line x1="246.4" y1="192.2" x2="250.4" y2="192.2" stroke="#222" stroke-width="1.2"/><line x1="248.4" y1="198.4" x2="248.4" y2="244" stroke="#222" stroke-width="1.2"/><line x1="246" y1="198.4" x2="248.4" y2="198.4" stroke="#222" stroke-width="1.2"/><text x="245.5" y="200.85" font-size="6.6" font-weight="bold" text-anchor="end" textLength="13.8" lengthAdjust="spacingAndGlyphs">3000</text><line x1="246" y1="213.3" x2="248.4" y2="213.3" stroke="#222" stroke-width="1.2"/><text x="245.5" y="215.75" font-size="6.6" font-weight="bold" text-anchor="end" textLength="13.8" lengthAdjust="spacingAndGlyphs">2000</text><line x1="246" y1="228.6" x2="248.4" y2="228.6" stroke="#222" stroke-width="1.2"/><text x="245.5" y="231.05" font-size="6.6" font-weight="bold" text-anchor="end" textLength="13.8" lengthAdjust="spacingAndGlyphs">1000</text><line x1="246" y1="244" x2="248.4" y2="244" stroke="#222" stroke-width="1.2"/><text x="245.5" y="246.45" font-size="6.6" font-weight="bold" text-anchor="end" textLength="3.45" lengthAdjust="spacingAndGlyphs">0</text><line x1="246.4" y1="198.4" x2="250.4" y2="198.4" stroke="#222" stroke-width="1.2"/><line x1="247.95" y1="244" x2="327.8" y2="244" stroke="#222" stroke-width="1.2"/><line x1="260.8" y1="244" x2="260.8" y2="246.4" stroke="#222" stroke-width="1.2"/><line x1="279.2" y1="244" x2="279.2" y2="246.4" stroke="#222" stroke-width="1.2"/><line x1="297.4" y1="244" x2="297.4" y2="246.4" stroke="#222" stroke-width="1.2"/><line x1="315.9" y1="244" x2="315.9" y2="246.4" stroke="#222" stroke-width="1.2"/><text x="324.9" y="183.9" font-size="6.6" font-weight="bold">22:6n3</text><line x1="324.9" y1="186.45" x2="345.9" y2="186.45" stroke="#111" stroke-width="1.35"/><rect x="328.6" y="191.85" width="4.3" height="4.3" fill="#8C8C8C"/><text x="339.5" y="196.39" font-size="6.65">4-HDoHE</text><text x="367.9" y="196.39" font-size="5.6" fill="#707070">- Mono-hydroxy</text><rect x="328.6" y="200.55" width="4.3" height="4.3" fill="#FCD2A6"/><text x="339.5" y="205.09" font-size="6.65">19(20)-EpDPE</text><rect x="328.6" y="208.35" width="4.3" height="4.3" fill="#FFF395"/><text x="339.5" y="212.89" font-size="6.65">16(17)-EpDPE</text><rect x="328.6" y="216.6" width="4.3" height="4.3" fill="#0A0AD0"/><text x="339.5" y="221.14" font-size="6.65">19,20-DiHDoPA</text><text x="386.4" y="221.14" font-size="5.6" fill="#707070">- Vicinal Diol</text><polyline points="383.6,202.5 385.6,202.5 385.6,210.7 383.6,210.7" fill="none" stroke="#666" stroke-width="0.8"/><text x="387.8" y="208" font-size="5.6" fill="#707070">Epoxides</text><text x="414.5" y="160.5" font-size="6.6" font-weight="bold">20:5n3</text><line x1="414.5" y1="163.05" x2="435.5" y2="163.05" stroke="#111" stroke-width="1.35"/><rect x="418.1" y="168.35" width="4.3" height="4.3" fill="#72F2B4"/><text x="429.3" y="172.88" font-size="6.6">15-HEPE</text><rect x="418.1" y="176.45" width="4.3" height="4.3" fill="#22F04C"/><text x="429.3" y="180.98" font-size="6.6">12-HEPE</text><rect x="418.1" y="184.45" width="4.3" height="4.3" fill="#128212"/><text x="429.3" y="188.98" font-size="6.6">9-HEPE</text><rect x="418.1" y="192.55" width="4.3" height="4.3" fill="#92E2B2"/><text x="429.3" y="197.08" font-size="6.6">5-HEPE</text><rect x="418.1" y="200.65" width="4.3" height="4.3" fill="#7E0A8A"/><text x="429.3" y="205.18" font-size="6.6">17(18)-EpETE</text><rect x="418.1" y="208.85" width="4.3" height="4.3" fill="#F28AF2"/><text x="429.3" y="213.38" font-size="6.6">14(15)-EpETE</text><rect x="418.1" y="217.05" width="4.3" height="4.3" fill="#CC10E6"/><text x="429.3" y="221.58" font-size="6.6">11(12)-EpETE</text><rect x="418.1" y="225.25" width="4.3" height="4.3" fill="#D4D4D4"/><text x="429.3" y="229.78" font-size="6.6">17,18-DiHETE</text><rect x="418.1" y="233.35" width="4.3" height="4.3" fill="#EFE4C6"/><text x="429.3" y="237.88" font-size="6.6">14,15-DiHETE</text><polyline points="456.5,170.5 459.9,170.5 459.9,194.7 456.5,194.7" fill="none" stroke="#666" stroke-width="0.8"/><text x="461.4" y="183.1" font-size="5.6" fill="#707070">Mono-hydroxy</text><polyline points="472,202.8 474,202.8 474,219.2 472,219.2" fill="none" stroke="#666" stroke-width="0.8"/><text x="476.8" y="212.9" font-size="5.6" fill="#707070">Epoxides</text><polyline points="472,227.4 474.7,227.4 474.7,235.5 472,235.5" fill="none" stroke="#666" stroke-width="0.8"/><text x="476.8" y="232.7" font-size="5.6" fill="#707070">Vicinal Diols</text><text x="83.4" y="287" font-size="7.9" font-weight="bold" text-anchor="middle">Cluster 4</text><text x="57.5" y="298.8" font-size="6.9" font-style="italic">p<tspan font-size="4.95" dy="1.3">interaction</tspan><tspan dy="-1.3"> = 0.014</tspan></text><text x="26.7" y="343.8" font-size="6.75" font-weight="bold" text-anchor="middle" transform="rotate(-90 26.7 343.8)">(pmol/g of wet tissue weight)</text><rect x="50" y="331.1" width="12.3" height="2.4" fill="#C2D7F8"/><rect x="50" y="333.5" width="12.3" height="1" fill="#5B6BEA"/><rect x="50" y="334.5" width="12.3" height="2.3" fill="#76B8FA"/><rect x="50" y="336.8" width="12.3" height="12.6" fill="#0814E6"/><rect x="50" y="349.4" width="12.3" height="9" fill="#44E490"/><rect x="50" y="358.4" width="12.3" height="1.4" fill="#42064E"/><rect x="50" y="359.8" width="12.3" height="5.7" fill="#F8AC66"/><rect x="50" y="365.5" width="12.3" height="15.8" fill="#DDBCA4"/><rect x="50" y="381.3" width="12.3" height="3" fill="#FCB6E2"/><rect x="68.1" y="308.2" width="12.3" height="1.8" fill="#C2D7F8"/><rect x="68.1" y="310" width="12.3" height="1" fill="#5B6BEA"/><rect x="68.1" y="311" width="12.3" height="7" fill="#76B8FA"/><rect x="68.1" y="318" width="12.3" height="18.8" fill="#0814E6"/><rect x="68.1" y="336.8" width="12.3" height="13.1" fill="#44E490"/><rect x="68.1" y="349.9" width="12.3" height="1.6" fill="#42064E"/><rect x="68.1" y="351.5" width="12.3" height="8.2" fill="#F8AC66"/><rect x="68.1" y="359.7" width="12.3" height="19.7" fill="#DDBCA4"/><rect x="68.1" y="379.4" width="12.3" height="4.9" fill="#FCB6E2"/><rect x="86.3" y="352.7" width="12.3" height="1.3" fill="#C2D7F8"/><rect x="86.3" y="354" width="12.3" height="1" fill="#5B6BEA"/><rect x="86.3" y="355" width="12.3" height="1.5" fill="#76B8FA"/><rect x="86.3" y="356.5" width="12.3" height="8.1" fill="#0814E6"/><rect x="86.3" y="364.6" width="12.3" height="3.3" fill="#44E490"/><rect x="86.3" y="367.9" width="12.3" height="1.6" fill="#42064E"/><rect x="86.3" y="369.5" width="12.3" height="5.8" fill="#F8AC66"/><rect x="86.3" y="375.3" width="12.3" height="7.3" fill="#DDBCA4"/><rect x="86.3" y="382.6" width="12.3" height="1.7" fill="#FCB6E2"/><rect x="104.6" y="354.8" width="12.3" height="1.2" fill="#C2D7F8"/><rect x="104.6" y="356" width="12.3" height="1" fill="#5B6BEA"/><rect x="104.6" y="357" width="12.3" height="0.6" fill="#76B8FA"/><rect x="104.6" y="357.6" width="12.3" height="5.4" fill="#0814E6"/><rect x="104.6" y="363" width="12.3" height="3.8" fill="#44E490"/><rect x="104.6" y="366.8" width="12.3" height="1.2" fill="#42064E"/><rect x="104.6" y="368" width="12.3" height="4" fill="#F8AC66"/><rect x="104.6" y="372" width="12.3" height="9.8" fill="#DDBCA4"/><rect x="104.6" y="381.8" width="12.3" height="2.5" fill="#FCB6E2"/><line x1="56.15" y1="331.5" x2="56.15" y2="335" stroke="#3a3030" stroke-width="0.6"/><line x1="55.05" y1="331.5" x2="57.25" y2="331.5" stroke="#3a3030" stroke-width="0.8"/><line x1="55.05" y1="335" x2="57.25" y2="335" stroke="#3a3030" stroke-width="0.8"/><line x1="56.15" y1="337.5" x2="56.15" y2="341" stroke="#3a3030" stroke-width="0.6"/><line x1="55.05" y1="337.5" x2="57.25" y2="337.5" stroke="#3a3030" stroke-width="0.8"/><line x1="55.05" y1="341" x2="57.25" y2="341" stroke="#3a3030" stroke-width="0.8"/><line x1="56.15" y1="350" x2="56.15" y2="353" stroke="#3a3030" stroke-width="0.6"/><line x1="55.05" y1="350" x2="57.25" y2="350" stroke="#3a3030" stroke-width="0.8"/><line x1="55.05" y1="353" x2="57.25" y2="353" stroke="#3a3030" stroke-width="0.8"/><line x1="56.15" y1="360" x2="56.15" y2="361.5" stroke="#3a3030" stroke-width="0.6"/><line x1="55.05" y1="360" x2="57.25" y2="360" stroke="#3a3030" stroke-width="0.8"/><line x1="55.05" y1="361.5" x2="57.25" y2="361.5" stroke="#3a3030" stroke-width="0.8"/><line x1="56.15" y1="366" x2="56.15" y2="369" stroke="#3a3030" stroke-width="0.6"/><line x1="55.05" y1="366" x2="57.25" y2="366" stroke="#3a3030" stroke-width="0.8"/><line x1="55.05" y1="369" x2="57.25" y2="369" stroke="#3a3030" stroke-width="0.8"/><line x1="56.15" y1="382" x2="56.15" y2="383" stroke="#3a3030" stroke-width="0.6"/><line x1="55.05" y1="382" x2="57.25" y2="382" stroke="#3a3030" stroke-width="0.8"/><line x1="55.05" y1="383" x2="57.25" y2="383" stroke="#3a3030" stroke-width="0.8"/><line x1="74.25" y1="309" x2="74.25" y2="312" stroke="#3a3030" stroke-width="0.6"/><line x1="73.15" y1="309" x2="75.35" y2="309" stroke="#3a3030" stroke-width="0.8"/><line x1="73.15" y1="312" x2="75.35" y2="312" stroke="#3a3030" stroke-width="0.8"/><line x1="74.25" y1="318.5" x2="74.25" y2="322" stroke="#3a3030" stroke-width="0.6"/><line x1="73.15" y1="318.5" x2="75.35" y2="318.5" stroke="#3a3030" stroke-width="0.8"/><line x1="73.15" y1="322" x2="75.35" y2="322" stroke="#3a3030" stroke-width="0.8"/><line x1="74.25" y1="337" x2="74.25" y2="339.5" stroke="#3a3030" stroke-width="0.6"/><line x1="73.15" y1="337" x2="75.35" y2="337" stroke="#3a3030" stroke-width="0.8"/><line x1="73.15" y1="339.5" x2="75.35" y2="339.5" stroke="#3a3030" stroke-width="0.8"/><line x1="74.25" y1="352" x2="74.25" y2="354.5" stroke="#3a3030" stroke-width="0.6"/><line x1="73.15" y1="352" x2="75.35" y2="352" stroke="#3a3030" stroke-width="0.8"/><line x1="73.15" y1="354.5" x2="75.35" y2="354.5" stroke="#3a3030" stroke-width="0.8"/><line x1="74.25" y1="360" x2="74.25" y2="366" stroke="#3a3030" stroke-width="0.6"/><line x1="73.15" y1="360" x2="75.35" y2="360" stroke="#3a3030" stroke-width="0.8"/><line x1="73.15" y1="366" x2="75.35" y2="366" stroke="#3a3030" stroke-width="0.8"/><line x1="74.25" y1="380" x2="74.25" y2="382.5" stroke="#3a3030" stroke-width="0.6"/><line x1="73.15" y1="380" x2="75.35" y2="380" stroke="#3a3030" stroke-width="0.8"/><line x1="73.15" y1="382.5" x2="75.35" y2="382.5" stroke="#3a3030" stroke-width="0.8"/><line x1="92.45" y1="353" x2="92.45" y2="356" stroke="#3a3030" stroke-width="0.6"/><line x1="91.35" y1="353" x2="93.55" y2="353" stroke="#3a3030" stroke-width="0.8"/><line x1="91.35" y1="356" x2="93.55" y2="356" stroke="#3a3030" stroke-width="0.8"/><line x1="92.45" y1="357" x2="92.45" y2="359" stroke="#3a3030" stroke-width="0.6"/><line x1="91.35" y1="357" x2="93.55" y2="357" stroke="#3a3030" stroke-width="0.8"/><line x1="91.35" y1="359" x2="93.55" y2="359" stroke="#3a3030" stroke-width="0.8"/><line x1="92.45" y1="365" x2="92.45" y2="367" stroke="#3a3030" stroke-width="0.6"/><line x1="91.35" y1="365" x2="93.55" y2="365" stroke="#3a3030" stroke-width="0.8"/><line x1="91.35" y1="367" x2="93.55" y2="367" stroke="#3a3030" stroke-width="0.8"/><line x1="92.45" y1="370" x2="92.45" y2="372" stroke="#3a3030" stroke-width="0.6"/><line x1="91.35" y1="370" x2="93.55" y2="370" stroke="#3a3030" stroke-width="0.8"/><line x1="91.35" y1="372" x2="93.55" y2="372" stroke="#3a3030" stroke-width="0.8"/><line x1="92.45" y1="375.5" x2="92.45" y2="380" stroke="#3a3030" stroke-width="0.6"/><line x1="91.35" y1="375.5" x2="93.55" y2="375.5" stroke="#3a3030" stroke-width="0.8"/><line x1="91.35" y1="380" x2="93.55" y2="380" stroke="#3a3030" stroke-width="0.8"/><line x1="92.45" y1="383" x2="92.45" y2="384" stroke="#3a3030" stroke-width="0.6"/><line x1="91.35" y1="383" x2="93.55" y2="383" stroke="#3a3030" stroke-width="0.8"/><line x1="91.35" y1="384" x2="93.55" y2="384" stroke="#3a3030" stroke-width="0.8"/><line x1="110.75" y1="355" x2="110.75" y2="357" stroke="#3a3030" stroke-width="0.6"/><line x1="109.65" y1="355" x2="111.85" y2="355" stroke="#3a3030" stroke-width="0.8"/><line x1="109.65" y1="357" x2="111.85" y2="357" stroke="#3a3030" stroke-width="0.8"/><line x1="110.75" y1="358" x2="110.75" y2="361" stroke="#3a3030" stroke-width="0.6"/><line x1="109.65" y1="358" x2="111.85" y2="358" stroke="#3a3030" stroke-width="0.8"/><line x1="109.65" y1="361" x2="111.85" y2="361" stroke="#3a3030" stroke-width="0.8"/><line x1="110.75" y1="363.5" x2="110.75" y2="366" stroke="#3a3030" stroke-width="0.6"/><line x1="109.65" y1="363.5" x2="111.85" y2="363.5" stroke="#3a3030" stroke-width="0.8"/><line x1="109.65" y1="366" x2="111.85" y2="366" stroke="#3a3030" stroke-width="0.8"/><line x1="110.75" y1="368.5" x2="110.75" y2="370.5" stroke="#3a3030" stroke-width="0.6"/><line x1="109.65" y1="368.5" x2="111.85" y2="368.5" stroke="#3a3030" stroke-width="0.8"/><line x1="109.65" y1="370.5" x2="111.85" y2="370.5" stroke="#3a3030" stroke-width="0.8"/><line x1="110.75" y1="372.5" x2="110.75" y2="378" stroke="#3a3030" stroke-width="0.6"/><line x1="109.65" y1="372.5" x2="111.85" y2="372.5" stroke="#3a3030" stroke-width="0.8"/><line x1="109.65" y1="378" x2="111.85" y2="378" stroke="#3a3030" stroke-width="0.8"/><line x1="110.75" y1="382" x2="110.75" y2="383.5" stroke="#3a3030" stroke-width="0.6"/><line x1="109.65" y1="382" x2="111.85" y2="382" stroke="#3a3030" stroke-width="0.8"/><line x1="109.65" y1="383.5" x2="111.85" y2="383.5" stroke="#3a3030" stroke-width="0.8"/><line x1="43.6" y1="303" x2="43.6" y2="384.3" stroke="#222" stroke-width="1.2"/><line x1="41.2" y1="303" x2="43.6" y2="303" stroke="#222" stroke-width="1.2"/><text x="40.7" y="305.45" font-size="6.6" font-weight="bold" text-anchor="end" textLength="10.35" lengthAdjust="spacingAndGlyphs">100</text><line x1="41.2" y1="319.5" x2="43.6" y2="319.5" stroke="#222" stroke-width="1.2"/><text x="40.7" y="321.95" font-size="6.6" font-weight="bold" text-anchor="end" textLength="6.9" lengthAdjust="spacingAndGlyphs">80</text><line x1="41.2" y1="335.8" x2="43.6" y2="335.8" stroke="#222" stroke-width="1.2"/><text x="40.7" y="338.25" font-size="6.6" font-weight="bold" text-anchor="end" textLength="6.9" lengthAdjust="spacingAndGlyphs">60</text><line x1="41.2" y1="352" x2="43.6" y2="352" stroke="#222" stroke-width="1.2"/><text x="40.7" y="354.45" font-size="6.6" font-weight="bold" text-anchor="end" textLength="6.9" lengthAdjust="spacingAndGlyphs">40</text><line x1="41.2" y1="368.2" x2="43.6" y2="368.2" stroke="#222" stroke-width="1.2"/><text x="40.7" y="370.65" font-size="6.6" font-weight="bold" text-anchor="end" textLength="6.9" lengthAdjust="spacingAndGlyphs">20</text><line x1="41.2" y1="384.3" x2="43.6" y2="384.3" stroke="#222" stroke-width="1.2"/><text x="40.7" y="386.75" font-size="6.6" font-weight="bold" text-anchor="end" textLength="3.45" lengthAdjust="spacingAndGlyphs">0</text><line x1="43.15" y1="384.3" x2="122.5" y2="384.3" stroke="#222" stroke-width="1.2"/><line x1="56.15" y1="384.3" x2="56.15" y2="386.7" stroke="#222" stroke-width="1.2"/><line x1="74.25" y1="384.3" x2="74.25" y2="386.7" stroke="#222" stroke-width="1.2"/><line x1="92.45" y1="384.3" x2="92.45" y2="386.7" stroke="#222" stroke-width="1.2"/><line x1="110.75" y1="384.3" x2="110.75" y2="386.7" stroke="#222" stroke-width="1.2"/><text x="56" y="329.4" font-size="7.2" font-weight="bold" text-anchor="middle">ab</text><text x="74.1" y="307.3" font-size="7.2" font-weight="bold" text-anchor="middle">a</text><text x="92.3" y="351.7" font-size="7.2" font-weight="bold" text-anchor="middle">bc</text><text x="110.6" y="353.3" font-size="7.2" font-weight="bold" text-anchor="middle">c</text><text x="126.6" y="285.5" font-size="6.6" font-weight="bold">20:4n6</text><line x1="126.6" y1="288.05" x2="147.6" y2="288.05" stroke="#111" stroke-width="1.35"/><rect x="129.3" y="293.65" width="4.3" height="4.3" fill="#C2D7F8"/><text x="141.2" y="298.18" font-size="6.6">14,15-DiHETrE</text><rect x="129.3" y="301.05" width="4.3" height="4.3" fill="#5B6BEA"/><text x="141.2" y="305.58" font-size="6.6">11,12-DiHETrE</text><rect x="129.3" y="308.65" width="4.3" height="4.3" fill="#76B8FA"/><text x="141.2" y="313.18" font-size="6.6">8,9-DiHETrE</text><rect x="129.3" y="316.25" width="4.3" height="4.3" fill="#0814E6"/><text x="141.2" y="320.78" font-size="6.6">5,6-DiHETrE</text><rect x="129.3" y="324.45" width="4.3" height="4.3" fill="#44E490"/><text x="141.2" y="328.98" font-size="6.6">5-KETE</text><text x="166" y="328.98" font-size="5.6" fill="#707070">- Ketone</text><polyline points="186,295.8 188.3,295.8 188.3,318.4 180,318.4" fill="none" stroke="#666" stroke-width="0.8"/><text x="190" y="307.2" font-size="5.6" fill="#707070">Vicinal Diols</text><text x="126.6" y="339.5" font-size="6.6" font-weight="bold">18:3n3</text><line x1="126.6" y1="342.05" x2="147.6" y2="342.05" stroke="#111" stroke-width="1.35"/><rect x="129.3" y="346.55" width="4.3" height="4.3" fill="#42064E"/><text x="141.2" y="351.08" font-size="6.6">9,10-DiHODE</text><text x="182.9" y="351.08" font-size="5.6" fill="#707070">- Vicinal Diol</text><text x="126.6" y="362" font-size="6.6" font-weight="bold">18:2n6</text><line x1="126.6" y1="364.55" x2="147.6" y2="364.55" stroke="#111" stroke-width="1.35"/><rect x="129.3" y="369.55" width="4.3" height="4.3" fill="#F8AC66"/><text x="141.2" y="374.08" font-size="6.6">12,13-DiHOME</text><rect x="129.3" y="377.45" width="4.3" height="4.3" fill="#DDBCA4"/><text x="141.2" y="381.98" font-size="6.6">9,10-DiHOME</text><polyline points="186.5,371.7 189,371.7 189,379.6 185,379.6" fill="none" stroke="#666" stroke-width="0.8"/><text x="191.2" y="377" font-size="5.6" fill="#707070">Vicinal Diols</text><text x="126.6" y="392.4" font-size="6.6" font-weight="bold">18:1n9</text><line x1="126.6" y1="394.95" x2="147.6" y2="394.95" stroke="#111" stroke-width="1.35"/><rect x="130.3" y="399.25" width="4.3" height="4.3" fill="#FCB6E2"/><text x="141.6" y="403.78" font-size="6.6">10-Nitrooleate</text><text x="288.1" y="287" font-size="7.9" font-weight="bold" text-anchor="middle">Cluster 9</text><text x="263" y="298.8" font-size="6.9" font-style="italic">p<tspan font-size="4.95" dy="1.3">interaction</tspan><tspan dy="-1.3"> = 0.014</tspan></text><rect x="254.6" y="355.5" width="12.2" height="19.2" fill="#F080F0"/><rect x="254.6" y="374.7" width="12.2" height="1.9" fill="#FADAB4"/><rect x="254.6" y="376.6" width="12.2" height="1.9" fill="#E8115C"/><rect x="273" y="336.7" width="12.2" height="33.3" fill="#F080F0"/><rect x="273" y="370" width="12.2" height="5" fill="#FADAB4"/><rect x="273" y="375" width="12.2" height="3.5" fill="#E8115C"/><rect x="291.3" y="310.2" width="12.2" height="54.6" fill="#F080F0"/><rect x="291.3" y="364.8" width="12.2" height="8.2" fill="#FADAB4"/><rect x="291.3" y="373" width="12.2" height="5.5" fill="#E8115C"/><rect x="309.7" y="349.4" width="12.2" height="24.8" fill="#F080F0"/><rect x="309.7" y="374.2" width="12.2" height="2.4" fill="#FADAB4"/><rect x="309.7" y="376.6" width="12.2" height="1.9" fill="#E8115C"/><line x1="260.7" y1="355.5" x2="260.7" y2="368.4" stroke="#3a3030" stroke-width="0.6"/><line x1="259.6" y1="355.5" x2="261.8" y2="355.5" stroke="#3a3030" stroke-width="0.8"/><line x1="259.6" y1="368.4" x2="261.8" y2="368.4" stroke="#3a3030" stroke-width="0.8"/><line x1="260.7" y1="375" x2="260.7" y2="377" stroke="#3a3030" stroke-width="0.6"/><line x1="259.6" y1="375" x2="261.8" y2="375" stroke="#3a3030" stroke-width="0.8"/><line x1="259.6" y1="377" x2="261.8" y2="377" stroke="#3a3030" stroke-width="0.8"/><line x1="279.1" y1="336.7" x2="279.1" y2="347.7" stroke="#3a3030" stroke-width="0.6"/><line x1="278" y1="336.7" x2="280.2" y2="336.7" stroke="#3a3030" stroke-width="0.8"/><line x1="278" y1="347.7" x2="280.2" y2="347.7" stroke="#3a3030" stroke-width="0.8"/><line x1="279.1" y1="371" x2="279.1" y2="373" stroke="#3a3030" stroke-width="0.6"/><line x1="278" y1="371" x2="280.2" y2="371" stroke="#3a3030" stroke-width="0.8"/><line x1="278" y1="373" x2="280.2" y2="373" stroke="#3a3030" stroke-width="0.8"/><line x1="279.1" y1="376" x2="279.1" y2="377.5" stroke="#3a3030" stroke-width="0.6"/><line x1="278" y1="376" x2="280.2" y2="376" stroke="#3a3030" stroke-width="0.8"/><line x1="278" y1="377.5" x2="280.2" y2="377.5" stroke="#3a3030" stroke-width="0.8"/><line x1="297.4" y1="310.2" x2="297.4" y2="323.4" stroke="#3a3030" stroke-width="0.6"/><line x1="296.3" y1="310.2" x2="298.5" y2="310.2" stroke="#3a3030" stroke-width="0.8"/><line x1="296.3" y1="323.4" x2="298.5" y2="323.4" stroke="#3a3030" stroke-width="0.8"/><line x1="297.4" y1="366" x2="297.4" y2="370.5" stroke="#3a3030" stroke-width="0.6"/><line x1="296.3" y1="366" x2="298.5" y2="366" stroke="#3a3030" stroke-width="0.8"/><line x1="296.3" y1="370.5" x2="298.5" y2="370.5" stroke="#3a3030" stroke-width="0.8"/><line x1="297.4" y1="374.5" x2="297.4" y2="376" stroke="#3a3030" stroke-width="0.6"/><line x1="296.3" y1="374.5" x2="298.5" y2="374.5" stroke="#3a3030" stroke-width="0.8"/><line x1="296.3" y1="376" x2="298.5" y2="376" stroke="#3a3030" stroke-width="0.8"/><line x1="315.8" y1="349.4" x2="315.8" y2="360.6" stroke="#3a3030" stroke-width="0.6"/><line x1="314.7" y1="349.4" x2="316.9" y2="349.4" stroke="#3a3030" stroke-width="0.8"/><line x1="314.7" y1="360.6" x2="316.9" y2="360.6" stroke="#3a3030" stroke-width="0.8"/><line x1="315.8" y1="374.5" x2="315.8" y2="376.5" stroke="#3a3030" stroke-width="0.6"/><line x1="314.7" y1="374.5" x2="316.9" y2="374.5" stroke="#3a3030" stroke-width="0.8"/><line x1="314.7" y1="376.5" x2="316.9" y2="376.5" stroke="#3a3030" stroke-width="0.8"/><line x1="248.4" y1="297.3" x2="248.4" y2="378.5" stroke="#222" stroke-width="1.2"/><line x1="246" y1="297.3" x2="248.4" y2="297.3" stroke="#222" stroke-width="1.2"/><text x="245.5" y="299.75" font-size="6.6" font-weight="bold" text-anchor="end" textLength="17.25" lengthAdjust="spacingAndGlyphs">25000</text><line x1="246" y1="313.7" x2="248.4" y2="313.7" stroke="#222" stroke-width="1.2"/><text x="245.5" y="316.15" font-size="6.6" font-weight="bold" text-anchor="end" textLength="17.25" lengthAdjust="spacingAndGlyphs">20000</text><line x1="246" y1="329.8" x2="248.4" y2="329.8" stroke="#222" stroke-width="1.2"/><text x="245.5" y="332.25" font-size="6.6" font-weight="bold" text-anchor="end" textLength="17.25" lengthAdjust="spacingAndGlyphs">15000</text><line x1="246" y1="346" x2="248.4" y2="346" stroke="#222" stroke-width="1.2"/><text x="245.5" y="348.45" font-size="6.6" font-weight="bold" text-anchor="end" textLength="17.25" lengthAdjust="spacingAndGlyphs">10000</text><line x1="246" y1="362.3" x2="248.4" y2="362.3" stroke="#222" stroke-width="1.2"/><text x="245.5" y="364.75" font-size="6.6" font-weight="bold" text-anchor="end" textLength="13.8" lengthAdjust="spacingAndGlyphs">5000</text><line x1="246" y1="378.5" x2="248.4" y2="378.5" stroke="#222" stroke-width="1.2"/><text x="245.5" y="380.95" font-size="6.6" font-weight="bold" text-anchor="end" textLength="3.45" lengthAdjust="spacingAndGlyphs">0</text><line x1="247.95" y1="378.5" x2="330" y2="378.5" stroke="#222" stroke-width="1.2"/><line x1="260.7" y1="378.5" x2="260.7" y2="380.9" stroke="#222" stroke-width="1.2"/><line x1="279.1" y1="378.5" x2="279.1" y2="380.9" stroke="#222" stroke-width="1.2"/><line x1="297.4" y1="378.5" x2="297.4" y2="380.9" stroke="#222" stroke-width="1.2"/><line x1="315.8" y1="378.5" x2="315.8" y2="380.9" stroke="#222" stroke-width="1.2"/><text x="260.6" y="353.4" font-size="7" font-weight="bold" text-anchor="middle">b</text><text x="278.6" y="335.2" font-size="7" font-weight="bold" text-anchor="middle">ab</text><text x="297.2" y="309" font-size="7" font-weight="bold" text-anchor="middle">a</text><text x="316" y="347.7" font-size="7" font-weight="bold" text-anchor="middle">b</text><text x="255.7" y="390.3" font-size="6.9" font-weight="bold" text-anchor="middle">Veh</text><text x="278.5" y="390.3" font-size="6.9" font-weight="bold" text-anchor="middle">Chem</text><text x="300.1" y="390.3" font-size="6.9" font-weight="bold" text-anchor="middle">Veh</text><text x="321.5" y="390.3" font-size="6.9" font-weight="bold" text-anchor="middle">Chem</text><line x1="249.6" y1="393.4" x2="288.1" y2="393.4" stroke="#111" stroke-width="1.4"/><line x1="293.7" y1="393.4" x2="331.2" y2="393.4" stroke="#111" stroke-width="1.4"/><text x="268.9" y="402.3" font-size="6.9" font-weight="bold" text-anchor="middle">Low n-3</text><text x="312.4" y="402.3" font-size="6.9" font-weight="bold" text-anchor="middle">High n-3</text><text x="327.4" y="295.5" font-size="6.6" font-weight="bold">22:6n3</text><line x1="327.4" y1="298.05" x2="348.2" y2="298.05" stroke="#111" stroke-width="1.35"/><rect x="330" y="299.95" width="4.3" height="4.3" fill="#F080F0"/><text x="342.1" y="304.51" font-size="6.7">DHEA</text><text x="327.4" y="312.6" font-size="6.6" font-weight="bold">20:5n3</text><line x1="327.4" y1="315.15" x2="348.2" y2="315.15" stroke="#111" stroke-width="1.35"/><rect x="330" y="317.45" width="4.3" height="4.3" fill="#62B8F6"/><text x="342.1" y="322.01" font-size="6.7">EPEA</text><text x="327.4" y="329.7" font-size="6.6" font-weight="bold">16:1n7</text><line x1="327.4" y1="332.25" x2="348.2" y2="332.25" stroke="#111" stroke-width="1.35"/><rect x="330" y="334.45" width="4.3" height="4.3" fill="#D2640E"/><text x="342.1" y="339.01" font-size="6.7">POEA</text><text x="327.4" y="346.8" font-size="6.6" font-weight="bold">18:0</text><line x1="327.4" y1="349.35" x2="348.2" y2="349.35" stroke="#111" stroke-width="1.35"/><rect x="330" y="351.55" width="4.3" height="4.3" fill="#FADAB4"/><text x="342.1" y="356.11" font-size="6.7">SEA</text><text x="327.4" y="363.9" font-size="6.6" font-weight="bold">16:0</text><line x1="327.4" y1="366.45" x2="348.2" y2="366.45" stroke="#111" stroke-width="1.35"/><rect x="330" y="367.95" width="4.3" height="4.3" fill="#E8115C"/><text x="342.1" y="372.51" font-size="6.7">PEA</text><polyline points="360.5,302.1 362.4,302.1 362.4,370.1 360.5,370.1" fill="none" stroke="#666" stroke-width="0.8"/><text x="364.6" y="310" font-size="5.4" fill="#707070" transform="rotate(90 364.6 310)">N-Acylethanolamines</text><text x="381.3" y="317.3" font-size="6.6" font-weight="bold">20:4n6</text><line x1="381.3" y1="319.85" x2="402.1" y2="319.85" stroke="#111" stroke-width="1.35"/><rect x="384.3" y="321.85" width="4.3" height="4.3" fill="#F8B272"/><text x="395.6" y="326.41" font-size="6.7">15-KETE</text><text x="423" y="326.41" font-size="5.6" fill="#707070">- Ketone</text><text x="381.3" y="334.1" font-size="6.6" font-weight="bold">18:3n3</text><line x1="381.3" y1="336.65" x2="402.1" y2="336.65" stroke="#111" stroke-width="1.35"/><rect x="384.3" y="338.35" width="4.3" height="4.3" fill="#144A5C"/><text x="395.6" y="342.91" font-size="6.7">12,13-DiHODE</text><text x="440" y="342.91" font-size="5.6" fill="#707070">- Vicinal Diol</text><text x="83.4" y="427.8" font-size="8" font-weight="bold" text-anchor="middle">Cluster 10</text><text x="58" y="439.6" font-size="6.9" font-style="italic">p<tspan font-size="4.95" dy="1.3">interaction</tspan><tspan dy="-1.3"> &lt; 0.001</tspan></text><text x="21.3" y="479.5" font-size="6.85" font-weight="bold" text-anchor="middle" transform="rotate(-90 21.3 479.5)">(pmol/g of wet tissue weight)</text><rect x="49.6" y="489.8" width="12.3" height="21.2" fill="#1B82A6"/><rect x="49.6" y="511" width="12.3" height="1" fill="#D8CC22"/><rect x="49.6" y="512" width="12.3" height="2.7" fill="#A8661C"/><rect x="49.6" y="514.7" width="12.3" height="5.6" fill="#22C222"/><rect x="67.9" y="453.25" width="12.3" height="49.85" fill="#1B82A6"/><rect x="67.9" y="503.1" width="12.3" height="0.9" fill="#D8CC22"/><rect x="67.9" y="504" width="12.3" height="5.5" fill="#A8661C"/><rect x="67.9" y="509.5" width="12.3" height="10.8" fill="#22C222"/><rect x="86.3" y="474.5" width="12.3" height="24.6" fill="#1B82A6"/><rect x="86.3" y="499.1" width="12.3" height="0.9" fill="#D8CC22"/><rect x="86.3" y="500" width="12.3" height="6.6" fill="#A8661C"/><rect x="86.3" y="506.6" width="12.3" height="13.7" fill="#22C222"/><rect x="104.8" y="503.8" width="12.3" height="10.3" fill="#1B82A6"/><rect x="104.8" y="514.1" width="12.3" height="0.7" fill="#D8CC22"/><rect x="104.8" y="514.8" width="12.3" height="1.2" fill="#A8661C"/><rect x="104.8" y="516" width="12.3" height="4.3" fill="#22C222"/><line x1="55.75" y1="489.8" x2="55.75" y2="498.8" stroke="#3a3030" stroke-width="0.6"/><line x1="54.65" y1="489.8" x2="56.85" y2="489.8" stroke="#3a3030" stroke-width="0.8"/><line x1="54.65" y1="498.8" x2="56.85" y2="498.8" stroke="#3a3030" stroke-width="0.8"/><line x1="55.75" y1="511.9" x2="55.75" y2="517.5" stroke="#3a3030" stroke-width="0.6"/><line x1="54.65" y1="511.9" x2="56.85" y2="511.9" stroke="#3a3030" stroke-width="0.8"/><line x1="54.65" y1="517.5" x2="56.85" y2="517.5" stroke="#3a3030" stroke-width="0.8"/><line x1="74.05" y1="453.3" x2="74.05" y2="475.5" stroke="#3a3030" stroke-width="0.6"/><line x1="72.95" y1="453.3" x2="75.15" y2="453.3" stroke="#3a3030" stroke-width="0.8"/><line x1="72.95" y1="475.5" x2="75.15" y2="475.5" stroke="#3a3030" stroke-width="0.8"/><line x1="74.05" y1="503.5" x2="74.05" y2="514.7" stroke="#3a3030" stroke-width="0.6"/><line x1="72.95" y1="503.5" x2="75.15" y2="503.5" stroke="#3a3030" stroke-width="0.8"/><line x1="72.95" y1="514.7" x2="75.15" y2="514.7" stroke="#3a3030" stroke-width="0.8"/><line x1="74.05" y1="509.5" x2="74.05" y2="518" stroke="#3a3030" stroke-width="0.6"/><line x1="72.95" y1="509.5" x2="75.15" y2="509.5" stroke="#3a3030" stroke-width="0.8"/><line x1="72.95" y1="518" x2="75.15" y2="518" stroke="#3a3030" stroke-width="0.8"/><line x1="92.45" y1="474.5" x2="92.45" y2="483.7" stroke="#3a3030" stroke-width="0.6"/><line x1="91.35" y1="474.5" x2="93.55" y2="474.5" stroke="#3a3030" stroke-width="0.8"/><line x1="91.35" y1="483.7" x2="93.55" y2="483.7" stroke="#3a3030" stroke-width="0.8"/><line x1="92.45" y1="499" x2="92.45" y2="511.9" stroke="#3a3030" stroke-width="0.6"/><line x1="91.35" y1="499" x2="93.55" y2="499" stroke="#3a3030" stroke-width="0.8"/><line x1="91.35" y1="511.9" x2="93.55" y2="511.9" stroke="#3a3030" stroke-width="0.8"/><line x1="110.95" y1="503.8" x2="110.95" y2="517.5" stroke="#3a3030" stroke-width="0.6"/><line x1="109.85" y1="503.8" x2="112.05" y2="503.8" stroke="#3a3030" stroke-width="0.8"/><line x1="109.85" y1="517.5" x2="112.05" y2="517.5" stroke="#3a3030" stroke-width="0.8"/><line x1="43.1" y1="438.3" x2="43.1" y2="520.3" stroke="#222" stroke-width="1.2"/><line x1="40.7" y1="438.3" x2="43.1" y2="438.3" stroke="#222" stroke-width="1.2"/><text x="40.2" y="440.75" font-size="6.6" font-weight="bold" text-anchor="end" textLength="13.8" lengthAdjust="spacingAndGlyphs">4000</text><line x1="40.7" y1="458.8" x2="43.1" y2="458.8" stroke="#222" stroke-width="1.2"/><text x="40.2" y="461.25" font-size="6.6" font-weight="bold" text-anchor="end" textLength="13.8" lengthAdjust="spacingAndGlyphs">3000</text><line x1="40.7" y1="479.4" x2="43.1" y2="479.4" stroke="#222" stroke-width="1.2"/><text x="40.2" y="481.85" font-size="6.6" font-weight="bold" text-anchor="end" textLength="13.8" lengthAdjust="spacingAndGlyphs">2000</text><line x1="40.7" y1="499.9" x2="43.1" y2="499.9" stroke="#222" stroke-width="1.2"/><text x="40.2" y="502.35" font-size="6.6" font-weight="bold" text-anchor="end" textLength="13.8" lengthAdjust="spacingAndGlyphs">1000</text><line x1="40.7" y1="520.3" x2="43.1" y2="520.3" stroke="#222" stroke-width="1.2"/><text x="40.2" y="522.75" font-size="6.6" font-weight="bold" text-anchor="end" textLength="3.45" lengthAdjust="spacingAndGlyphs">0</text><line x1="42.65" y1="520.3" x2="123" y2="520.3" stroke="#222" stroke-width="1.2"/><line x1="55.75" y1="520.3" x2="55.75" y2="522.7" stroke="#222" stroke-width="1.2"/><line x1="74.05" y1="520.3" x2="74.05" y2="522.7" stroke="#222" stroke-width="1.2"/><line x1="92.45" y1="520.3" x2="92.45" y2="522.7" stroke="#222" stroke-width="1.2"/><line x1="110.95" y1="520.3" x2="110.95" y2="522.7" stroke="#222" stroke-width="1.2"/><text x="55.9" y="487.7" font-size="7" font-weight="bold" text-anchor="middle">ab</text><text x="73.8" y="452.3" font-size="7" font-weight="bold" text-anchor="middle">a</text><text x="91.9" y="473.5" font-size="7" font-weight="bold" text-anchor="middle">a</text><text x="111" y="502.1" font-size="7" font-weight="bold" text-anchor="middle">b</text><text x="50.7" y="531.7" font-size="6.9" font-weight="bold" text-anchor="middle">Veh</text><text x="72.9" y="531.7" font-size="6.9" font-weight="bold" text-anchor="middle">Chem</text><text x="94.8" y="531.7" font-size="6.9" font-weight="bold" text-anchor="middle">Veh</text><text x="116.5" y="531.7" font-size="6.9" font-weight="bold" text-anchor="middle">Chem</text><line x1="44.4" y1="534.4" x2="82" y2="534.4" stroke="#111" stroke-width="1.4"/><line x1="88.5" y1="534.4" x2="125.7" y2="534.4" stroke="#111" stroke-width="1.4"/><text x="63.75" y="544" font-size="6.9" font-weight="bold" text-anchor="middle">Low n-3</text><text x="106.9" y="544" font-size="6.9" font-weight="bold" text-anchor="middle">High n-3</text><text x="128" y="428.2" font-size="6.6" font-weight="bold">20:4n6</text><line x1="128" y1="430.75" x2="149" y2="430.75" stroke="#111" stroke-width="1.35"/><rect x="131.3" y="434.85" width="4.3" height="4.3" fill="#1A7898"/><text x="143" y="439.42" font-size="6.72">AEA</text><rect x="131.3" y="441.65" width="4.3" height="4.3" fill="#22AAF8"/><text x="143" y="446.22" font-size="6.72">11(12)-EpETre EA</text><text x="128" y="455.2" font-size="6.6" font-weight="bold">20:3n6</text><line x1="128" y1="457.75" x2="149" y2="457.75" stroke="#111" stroke-width="1.35"/><rect x="131.3" y="461.65" width="4.3" height="4.3" fill="#C8C022"/><text x="143" y="466.22" font-size="6.72">DGLEA</text><text x="128" y="475.7" font-size="6.6" font-weight="bold">18:3n3</text><line x1="128" y1="478.25" x2="149" y2="478.25" stroke="#111" stroke-width="1.35"/><rect x="131.3" y="482.15" width="4.3" height="4.3" fill="#B8621E"/><text x="143" y="486.72" font-size="6.72">aLEA</text><text x="128" y="495.7" font-size="6.6" font-weight="bold">18:2n6</text><line x1="128" y1="498.25" x2="149" y2="498.25" stroke="#111" stroke-width="1.35"/><rect x="131.3" y="501.65" width="4.3" height="4.3" fill="#A2822E"/><text x="143" y="506.22" font-size="6.72">LEA</text><text x="128" y="515.7" font-size="6.6" font-weight="bold">18:1n9</text><line x1="128" y1="518.25" x2="149" y2="518.25" stroke="#111" stroke-width="1.35"/><rect x="131.3" y="521.65" width="4.3" height="4.3" fill="#22C222"/><text x="143" y="526.22" font-size="6.72">OEA</text><polyline points="198.5,436.3 201.8,436.3 201.8,523 163,523" fill="none" stroke="#666" stroke-width="0.8"/><text x="203.8" y="451.3" font-size="5.4" fill="#707070" transform="rotate(90 203.8 451.3)">N-Acylethanolamines</text></svg></body></html>
